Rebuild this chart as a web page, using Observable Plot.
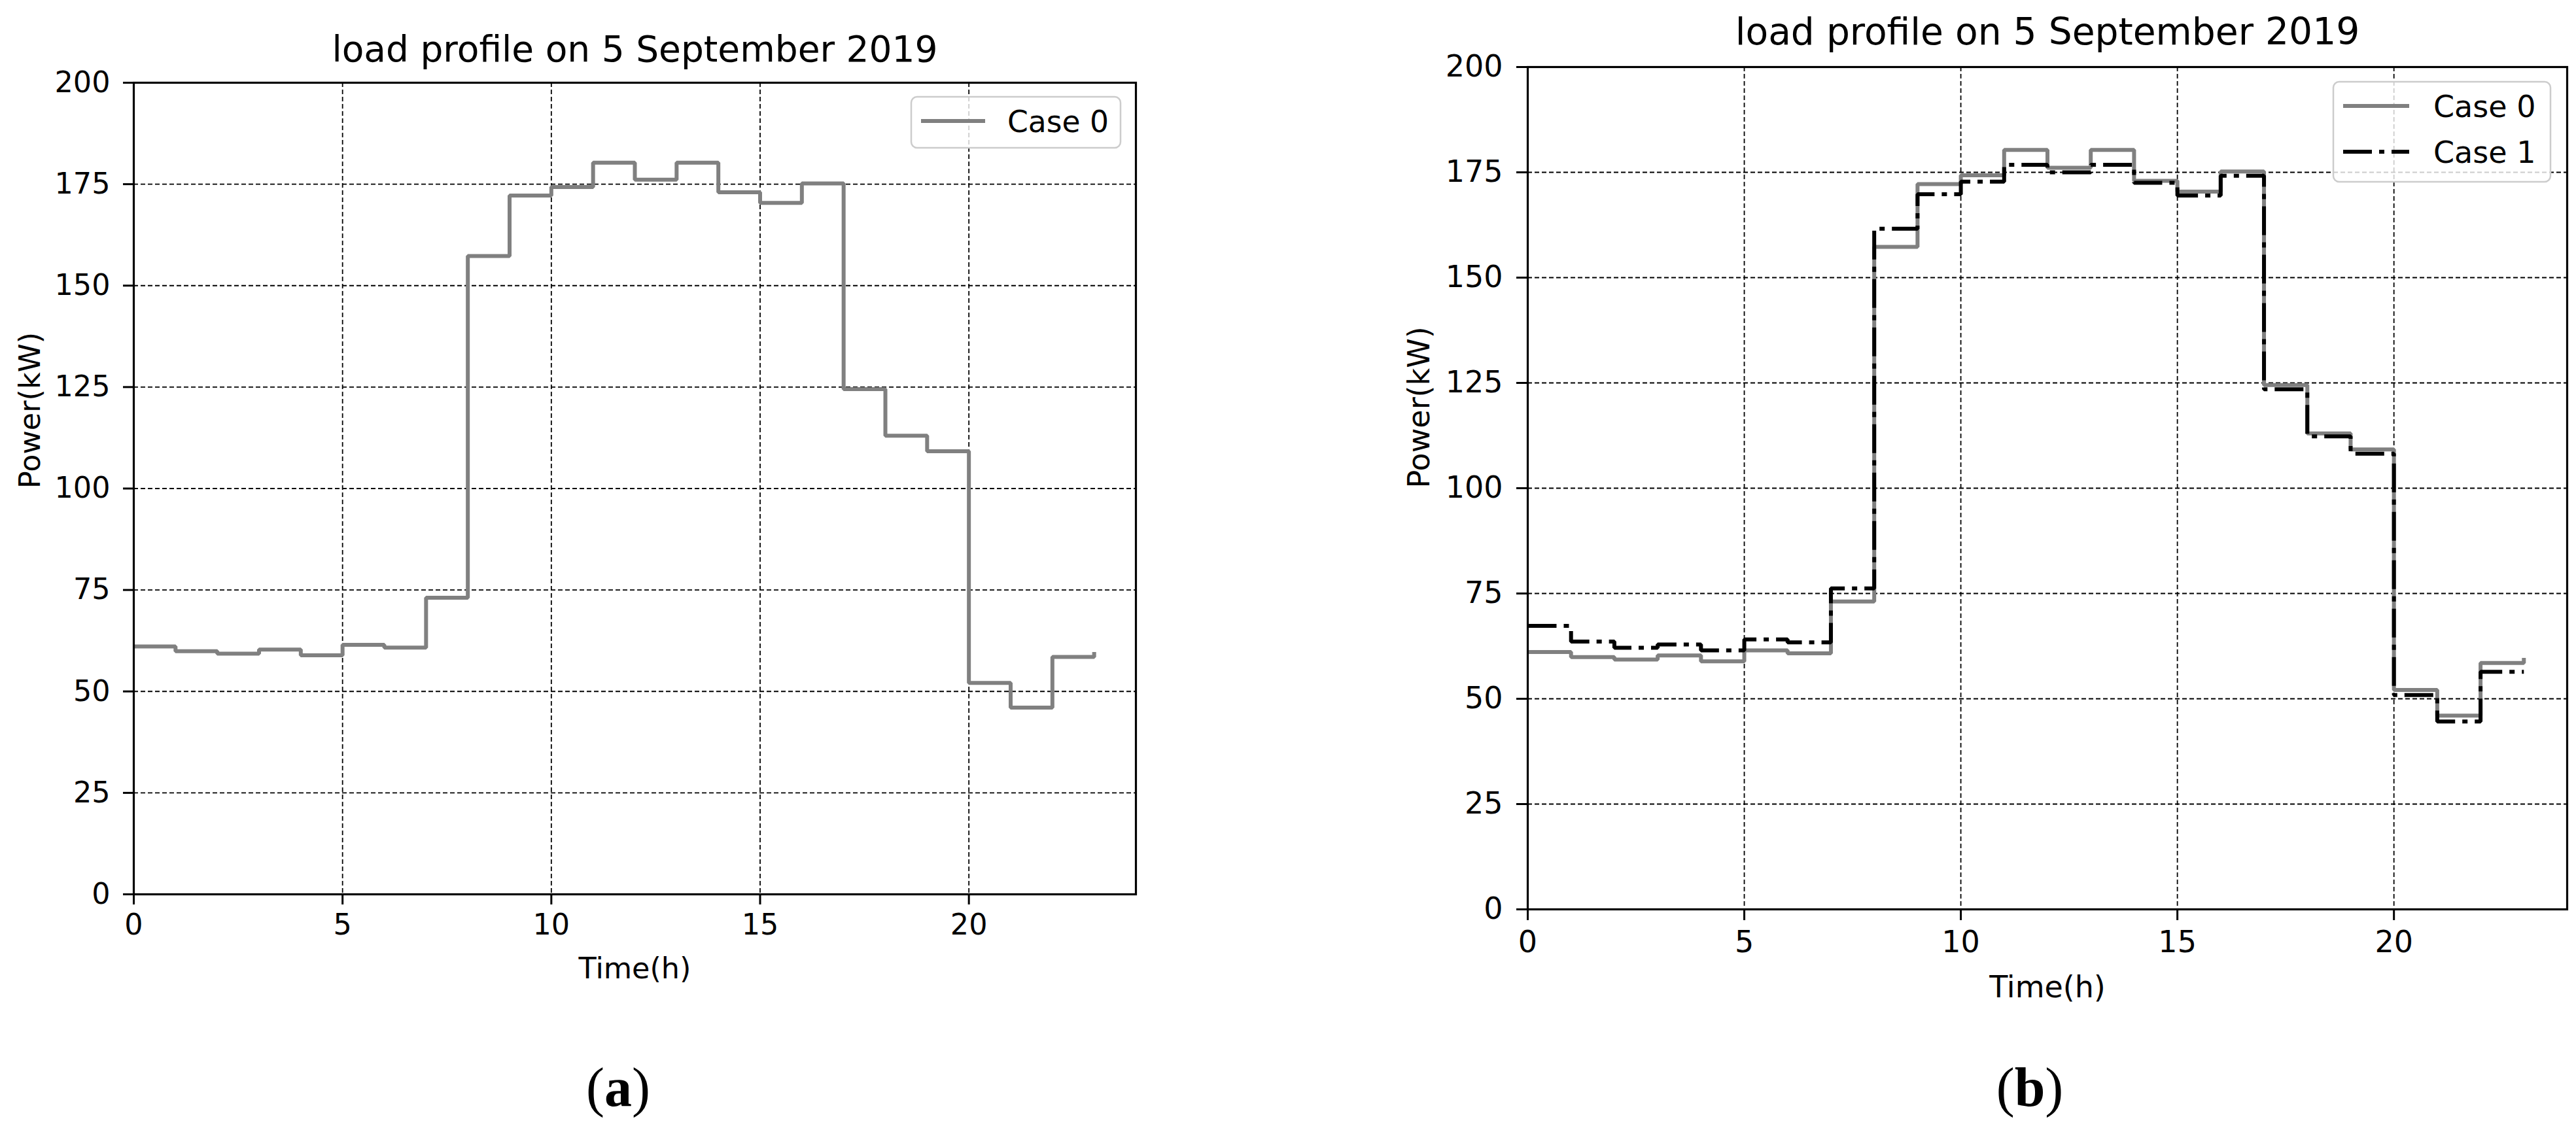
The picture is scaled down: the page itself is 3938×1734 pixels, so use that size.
<!DOCTYPE html>
<html>
<head>
<meta charset="utf-8">
<script src="https://cdn.jsdelivr.net/npm/d3@7"></script>
<script src="https://cdn.jsdelivr.net/npm/@observablehq/plot@0.6"></script>
<style>
html, body { margin: 0; padding: 0; background: #fff; }
#page { position: relative; width: 3938px; height: 1734px; overflow: hidden; background: #fff; }
.panel { position: absolute; top: 0; }
#overlay { position: absolute; left: 0; top: 0; pointer-events: none; }
</style>
</head>
<body>
<div id="page">
  <div id="pa" class="panel" style="left:0px"></div>
  <div id="pb" class="panel" style="left:2100px"></div>
</div>
<script>
// ---------------- data ----------------
const hours = [0, 1, 2, 3, 4, 5, 6, 7, 8, 9, 10, 11, 12, 13, 14, 15, 16, 17, 18, 19, 20, 21, 22, 23];
const case0 = [61.1, 59.9, 59.3, 60.3, 58.9, 61.5, 60.8, 73.1, 157.3, 172.2, 174.3, 180.3, 176.1, 180.3, 173.0, 170.4, 175.2, 124.5, 113.0, 109.2, 52.1, 46.0, 58.5, 59.7];
const case1 = [67.3, 63.6, 62.1, 62.9, 61.5, 64.1, 63.4, 76.2, 161.6, 169.8, 172.8, 176.8, 175.0, 176.8, 172.5, 169.5, 174.2, 123.5, 112.3, 108.2, 50.9, 44.6, 56.4, 56.4];
const seriesNames = ["Case 0", "Case 1"];
const xTicks = [0, 5, 10, 15, 20];
const yTicks = [0, 25, 50, 75, 100, 125, 150, 175, 200];
const xDomain = [0, 24];
const yDomain = [0, 200];
const chartTitle = "load profile on 5 September 2019";
const xLabel = "Time(h)";
const yLabel = "Power(kW)";
const panelLetters = ["a", "b"];

// ---------------- build ----------------
const rows0 = hours.map((h, i) => ({hour: h, power: case0[i], series: seriesNames[0]}));
const rows1 = hours.map((h, i) => ({hour: h, power: case1[i], series: seriesNames[1]}));

const styles = {
  "Case 0": {color: "#808080", dash: null, width: 6},
  "Case 1": {color: "#000000", dash: "44,11,8,11", width: 6}
};

function panel(o) {
  const gridStyle = {stroke: "#000", strokeOpacity: 1, strokeWidth: 1.8, strokeDasharray: "7,4"};
  const marks = [
    Plot.gridX({ticks: xTicks, ...gridStyle}),
    Plot.gridY({ticks: yTicks, ...gridStyle})
  ];
  for (const rows of o.series) {
    const st = styles[rows[0].series];
    marks.push(Plot.line(rows, {
      x: "hour", y: "power", curve: "step-after",
      stroke: st.color, strokeWidth: st.width, strokeDasharray: st.dash,
      strokeLinecap: "butt", strokeLinejoin: "miter"
    }));
  }
  marks.push(Plot.frame({stroke: "#000", strokeWidth: 3.2}));
  marks.push(Plot.axisX({ticks: xTicks, tickSize: o.tickSize, tickPadding: o.padX, fontSize: o.fs, strokeWidth: 3, label: null, tickFormat: d => String(d)}));
  marks.push(Plot.axisY({ticks: yTicks, tickSize: o.tickSize, tickPadding: o.padY, fontSize: o.fs, strokeWidth: 3, label: null, tickFormat: d => String(d)}));
  marks.push(Plot.text([chartTitle], {text: d => d, frameAnchor: "top", dy: -o.titleGap, lineAnchor: "bottom", fontSize: o.titleFs, fill: "#000"}));
  marks.push(Plot.text([xLabel], {text: d => d, frameAnchor: "bottom", dy: o.xlabDy, lineAnchor: "bottom", fontSize: o.fs, fill: "#000"}));
  marks.push(Plot.text([yLabel], {text: d => d, frameAnchor: "left", dx: -o.ylabDx, rotate: -90, lineAnchor: "middle", fontSize: o.fs, fill: "#000"}));
  return Plot.plot({
    width: o.width, height: o.height,
    marginTop: o.mt, marginBottom: o.mb, marginLeft: o.ml, marginRight: o.mr,
    x: {domain: xDomain, nice: false},
    y: {domain: yDomain, nice: false},
    style: {fontFamily: "DejaVu Sans", fontSize: o.fs + "px", color: "#000", background: "#fff", overflow: "visible"},
    marks
  });
}

document.getElementById("pa").appendChild(panel({
  series: [rows0], width: 1800, height: 1520, mt: 126, mb: 153, ml: 204, mr: 64,
  fs: 44.5, titleFs: 55, tickSize: 16, padX: 14, padY: 20, titleGap: 33, xlabDy: 128, ylabDx: 158
}));
document.getElementById("pb").appendChild(panel({
  series: [rows0, rows1], width: 1838, height: 1540, mt: 102, mb: 150, ml: 235, mr: 14,
  fs: 46, titleFs: 56.7, tickSize: 17, padX: 16, padY: 21, titleGap: 35, xlabDy: 134, ylabDx: 165
}));

// ---------------- legends & captions ----------------
const ov = d3.select("#page").append("svg").attr("id", "overlay")
  .attr("width", 3938).attr("height", 1734);

function legend(box, names, fs) {
  const g = ov.append("g");
  g.append("rect").attr("x", box.x).attr("y", box.y).attr("width", box.w).attr("height", box.h)
    .attr("rx", 9).attr("fill", "#fff").attr("fill-opacity", 0.8)
    .attr("stroke", "#cccccc").attr("stroke-width", 2.5);
  names.forEach((n, i) => {
    const st = styles[n];
    const cy = box.rows[i];
    g.append("line").attr("x1", box.lx1).attr("x2", box.lx2).attr("y1", cy).attr("y2", cy)
      .attr("stroke", st.color).attr("stroke-width", st.width)
      .attr("stroke-dasharray", st.dash);
    g.append("text").attr("x", box.tx).attr("y", cy + 0.365 * fs)
      .attr("font-family", "DejaVu Sans").attr("font-size", fs).attr("fill", "#000").text(n);
  });
}
legend({x: 1393, y: 148, w: 320, h: 78, rows: [185], lx1: 1408, lx2: 1506, tx: 1540}, [seriesNames[0]], 45.6);
legend({x: 3567, y: 125, w: 332, h: 153, rows: [162, 232], lx1: 3582, lx2: 3683, tx: 3720}, seriesNames, 46);

function caption(x, y, letter) {
  const t = ov.append("text").attr("x", x).attr("y", y).attr("text-anchor", "middle")
    .attr("font-family", "Liberation Serif").attr("font-size", 84).attr("fill", "#000");
  t.append("tspan").text("(");
  t.append("tspan").attr("font-weight", "bold").text(letter);
  t.append("tspan").text(")");
}
caption(945, 1691, panelLetters[0]);
caption(3103, 1691, panelLetters[1]);
</script>
</body>
</html>
